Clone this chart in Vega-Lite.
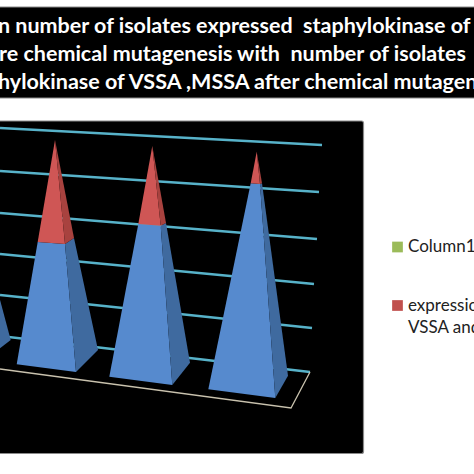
{
  "$schema": "https://vega.github.io/schema/vega-lite/v6.json",
  "width": 474,
  "height": 474,
  "padding": 0,
  "autosize": {"type": "none"},
  "background": "#ffffff",
  "view": {"stroke": null},
  "datasets": {
    "panels": [
      {"panel": "title", "x": -5, "x2": 480, "y": 7, "y2": 98},
      {"panel": "chart", "x": -5, "x2": 363.5, "y": 121, "y2": 453.5}
    ],
    "gridlines": [
      {"line": 1, "x": 0, "y": 128}, {"line": 1, "x": 322, "y": 145},
      {"line": 2, "x": 0, "y": 171}, {"line": 2, "x": 319, "y": 192},
      {"line": 3, "x": 0, "y": 213}, {"line": 3, "x": 317, "y": 239},
      {"line": 4, "x": 0, "y": 254}, {"line": 4, "x": 314, "y": 284},
      {"line": 5, "x": 0, "y": 295}, {"line": 5, "x": 312, "y": 328},
      {"line": 6, "x": 0, "y": 336}, {"line": 6, "x": 310, "y": 372}
    ],
    "floor": [
      {"step": 1, "x": 0, "y": 369},
      {"step": 2, "x": 291, "y": 408},
      {"step": 3, "x": 310, "y": 372}
    ],
    "pyramids": [
      {"pyramid": 1, "part": "before side", "step": 1, "x": -1, "y": 296},
      {"pyramid": 1, "part": "before side", "step": 2, "x": 10.7, "y": 340},
      {"pyramid": 1, "part": "before side", "step": 3, "x": -1, "y": 349},

      {"pyramid": 2, "part": "before front", "step": 1, "x": 16.7, "y": 364.3},
      {"pyramid": 2, "part": "before front", "step": 2, "x": 37.7, "y": 242},
      {"pyramid": 2, "part": "before front", "step": 3, "x": 65, "y": 244},
      {"pyramid": 2, "part": "before front", "step": 4, "x": 76, "y": 372},
      {"pyramid": 2, "part": "before side", "step": 1, "x": 76, "y": 372},
      {"pyramid": 2, "part": "before side", "step": 2, "x": 65, "y": 244},
      {"pyramid": 2, "part": "before side", "step": 3, "x": 74, "y": 238},
      {"pyramid": 2, "part": "before side", "step": 4, "x": 98, "y": 350},
      {"pyramid": 2, "part": "expression front", "step": 1, "x": 37.7, "y": 242},
      {"pyramid": 2, "part": "expression front", "step": 2, "x": 55, "y": 140},
      {"pyramid": 2, "part": "expression front", "step": 3, "x": 65, "y": 244},
      {"pyramid": 2, "part": "expression side", "step": 1, "x": 65, "y": 244},
      {"pyramid": 2, "part": "expression side", "step": 2, "x": 55, "y": 140},
      {"pyramid": 2, "part": "expression side", "step": 3, "x": 74, "y": 238},

      {"pyramid": 3, "part": "before front", "step": 1, "x": 109.3, "y": 376.7},
      {"pyramid": 3, "part": "before front", "step": 2, "x": 138.3, "y": 224},
      {"pyramid": 3, "part": "before front", "step": 3, "x": 160.7, "y": 225.7},
      {"pyramid": 3, "part": "before front", "step": 4, "x": 172.3, "y": 385},
      {"pyramid": 3, "part": "before side", "step": 1, "x": 172.3, "y": 385},
      {"pyramid": 3, "part": "before side", "step": 2, "x": 160.7, "y": 225.7},
      {"pyramid": 3, "part": "before side", "step": 3, "x": 166, "y": 223},
      {"pyramid": 3, "part": "before side", "step": 4, "x": 190, "y": 362.7},
      {"pyramid": 3, "part": "expression front", "step": 1, "x": 138.3, "y": 224},
      {"pyramid": 3, "part": "expression front", "step": 2, "x": 152.3, "y": 146},
      {"pyramid": 3, "part": "expression front", "step": 3, "x": 160.7, "y": 225.7},
      {"pyramid": 3, "part": "expression side", "step": 1, "x": 160.7, "y": 225.7},
      {"pyramid": 3, "part": "expression side", "step": 2, "x": 152.3, "y": 146},
      {"pyramid": 3, "part": "expression side", "step": 3, "x": 166, "y": 223},

      {"pyramid": 4, "part": "before front", "step": 1, "x": 208.3, "y": 389.3},
      {"pyramid": 4, "part": "before front", "step": 2, "x": 250.7, "y": 183.3},
      {"pyramid": 4, "part": "before front", "step": 3, "x": 260, "y": 184},
      {"pyramid": 4, "part": "before front", "step": 4, "x": 275.3, "y": 398},
      {"pyramid": 4, "part": "before side", "step": 1, "x": 275.3, "y": 398},
      {"pyramid": 4, "part": "before side", "step": 2, "x": 260, "y": 184},
      {"pyramid": 4, "part": "before side", "step": 3, "x": 262, "y": 183.3},
      {"pyramid": 4, "part": "before side", "step": 4, "x": 288, "y": 375.7},
      {"pyramid": 4, "part": "expression front", "step": 1, "x": 250.7, "y": 183.3},
      {"pyramid": 4, "part": "expression front", "step": 2, "x": 256.7, "y": 151.7},
      {"pyramid": 4, "part": "expression front", "step": 3, "x": 260, "y": 184},
      {"pyramid": 4, "part": "expression side", "step": 1, "x": 260, "y": 184},
      {"pyramid": 4, "part": "expression side", "step": 2, "x": 256.7, "y": 151.7},
      {"pyramid": 4, "part": "expression side", "step": 3, "x": 262, "y": 183.3}
    ],
    "legend": [
      {"series": "Column1", "x": 397.5, "y": 247},
      {"series": "expression", "x": 397.5, "y": 305.5}
    ],
    "heading": [
      {"label": "n number of isolates expressed \u00a0staphylokinase of", "x": -2, "y": 33},
      {"label": "re chemical mutagenesis with \u00a0number of isolates", "x": -1, "y": 61},
      {"label": "hylokinase of VSSA ,MSSA after chemical mutagenesis", "x": -2, "y": 89}
    ],
    "legendText": [
      {"label": "Column1", "x": 408, "y": 252},
      {"label": "expression of", "x": 408, "y": 311},
      {"label": "VSSA and MSSA", "x": 408, "y": 333}
    ]
  },
  "encoding": {
    "x": {"field": "x", "type": "quantitative", "scale": {"domain": [0, 474], "nice": false, "zero": false}, "axis": null},
    "y": {"field": "y", "type": "quantitative", "scale": {"domain": [474, 0], "nice": false, "zero": false}, "axis": null}
  },
  "layer": [
    {
      "data": {"name": "panels"},
      "mark": {"type": "rect", "fill": "#000000", "stroke": "#8a8a8a", "strokeWidth": 1.2, "cornerRadius": 2, "clip": true},
      "encoding": {
        "x2": {"field": "x2"},
        "y2": {"field": "y2"}
      }
    },
    {
      "data": {"name": "gridlines"},
      "mark": {"type": "line", "stroke": "#57b2c9", "strokeWidth": 2.5, "clip": true},
      "encoding": {"detail": {"field": "line"}}
    },
    {
      "data": {"name": "floor"},
      "mark": {"type": "line", "stroke": "#c9c2ae", "strokeWidth": 1.3, "clip": true},
      "encoding": {"order": {"field": "step"}}
    },
    {
      "data": {"name": "pyramids"},
      "mark": {"type": "line", "filled": true, "strokeWidth": 0, "clip": true},
      "encoding": {
        "fill": {
          "field": "part",
          "type": "nominal",
          "legend": null,
          "scale": {
            "domain": ["before front", "before side", "expression front", "expression side"],
            "range": ["#568ace", "#3f6a9f", "#cf5655", "#a8423f"]
          }
        },
        "detail": {"field": "pyramid"},
        "order": {"field": "step"}
      }
    },
    {
      "data": {"name": "legend"},
      "mark": {"type": "point", "shape": "square", "filled": true, "size": 115, "opacity": 1},
      "encoding": {
        "color": {
          "field": "series",
          "type": "nominal",
          "legend": null,
          "scale": {"domain": ["Column1", "expression"], "range": ["#9bbb59", "#c0504d"]}
        }
      }
    },
    {
      "data": {"name": "heading"},
      "mark": {"type": "text", "align": "left", "baseline": "alphabetic", "font": "Lato", "fontWeight": "bold", "fontSize": 21.5, "fill": "#ffffff"},
      "encoding": {"text": {"field": "label"}}
    },
    {
      "data": {"name": "legendText"},
      "mark": {"type": "text", "align": "left", "baseline": "alphabetic", "font": "Lato", "fontSize": 17, "fill": "#222222"},
      "encoding": {"text": {"field": "label"}}
    }
  ]
}
